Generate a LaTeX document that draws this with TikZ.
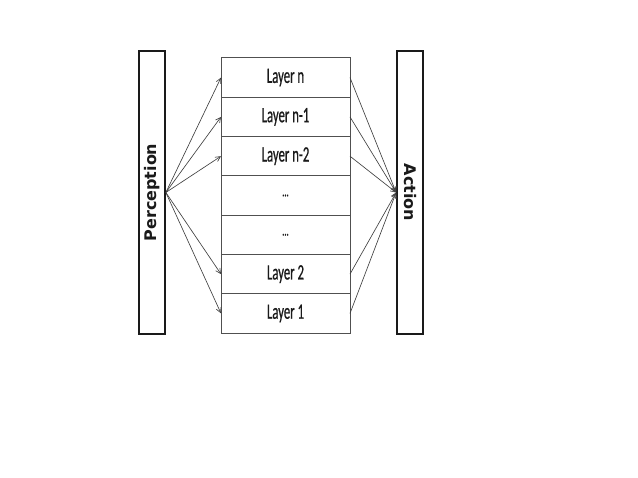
\documentclass[tikz,border=0pt]{standalone}
\usepackage{fontspec}
\usepackage{tikz}
\usetikzlibrary{arrows.meta,positioning}
\newfontfamily\layerfont[FakeStretch=0.58,FakeBold=0.6]{Carlito}
\newfontfamily\sidefont{DejaVu Sans}
\definecolor{lyInk}{HTML}{1A1A1A}
\definecolor{lyEdge}{HTML}{505050}
\definecolor{lyArrow}{HTML}{404040}
\tikzset{
  % Tall side box (perception / action)
  sidebox/.style={rectangle,draw=lyInk,line width=1.7pt,fill=white,
    minimum width=26pt,minimum height=283pt,inner sep=0pt,
    font=\sidefont\bfseries\fontsize{16}{16}\selectfont,text=lyInk},
  % One layer of the stack
  laybox/.style={rectangle,draw=lyEdge,line width=0.9pt,fill=white,
    minimum width=129pt,minimum height=39.3pt,inner sep=0pt,outer sep=0pt,
    font=\layerfont\fontsize{22}{22}\selectfont,text=lyInk},
  % Dots layer
  dotbox/.style={laybox,font=\layerfont\fontsize{15}{15}\selectfont},
  % Arrows
  arr/.style={-{Straight Barb[length=5pt,width=5pt]},line width=0.65pt,color=lyArrow},
}
\begin{document}
\begin{tikzpicture}[x=1pt,y=-1pt]
  \useasboundingbox (0,0) rectangle (638,478);

  \node[sidebox] (percep) at (152,192.5)
    {\rotatebox{90}{Perception}};
  \node[sidebox] (action) at (410,192.5)
    {\rotatebox{-90}{Action}};

  \node[laybox] (ln) at (285.5,77.6) {Layer n};
  \node[laybox,below=0pt of ln] (ln1) {Layer n-1};
  \node[laybox,below=0pt of ln1] (ln2) {Layer n-2};
  \node[dotbox,below=0pt of ln2] (dotsa) {...};
  \node[dotbox,below=0pt of dotsa] (dotsb) {...};
  \node[laybox,below=0pt of dotsb] (l2) {Layer 2};
  \node[laybox,below=0pt of l2] (l1) {Layer 1};

  \draw[arr] (percep.east) -- (ln.west);
  \draw[arr] (percep.east) -- (ln1.west);
  \draw[arr] (percep.east) -- (ln2.west);
  \draw[arr] (percep.east) -- (l2.west);
  \draw[arr] (percep.east) -- (l1.west);

  \draw[arr] (ln.east) -- (action.west);
  \draw[arr] (ln1.east) -- (action.west);
  \draw[arr] (ln2.east) -- (action.west);
  \draw[arr] (l2.east) -- (action.west);
  \draw[arr] (l1.east) -- (action.west);
\end{tikzpicture}
\end{document}
